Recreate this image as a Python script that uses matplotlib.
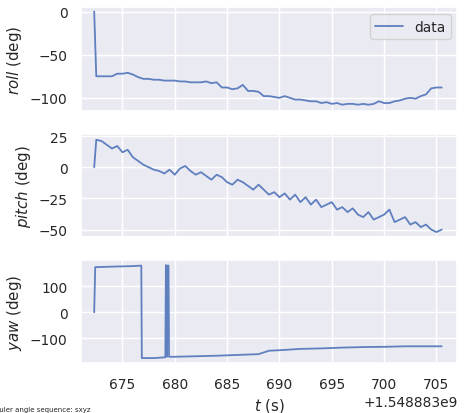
import numpy as np
import matplotlib
matplotlib.use("Agg")
import matplotlib.pyplot as plt
import seaborn as sns

sns.set_theme(style="darkgrid", font_scale=0.9)
plt.rcParams['font.family'] = ['DejaVu Sans']

OFFSET = 1.548883e9
t_rp = [672.3] + list(np.arange(672.5, 705.51, 0.5))
roll = [0,
    -75,-75,-75,-75, -72,-72,-71,-73, -76,-78,-78,-79, -79,-80,-80,-80,
    -81,-81,-82,-82, -82,-81,-83,-82, -88,-88,-90,-89, -85,-92,-92,-93,
    -98,-98,-99,-100, -98,-100,-102,-102, -103,-104,-104,-106, -105,-107,-106,-108,
    -107,-107,-108,-107, -108,-107,-104,-106, -106,-104,-103,-101, -100,-101,-98,-96,
    -89,-88,-88]
pitch = [0,
    22,21,18,15, 17,12,14,8, 5,2,0,-2, -3,-5,-2,-6, -1,1,-3,-6, -4,-7,-10,-6,
    -8,-12,-14,-10, -12,-15,-18,-14, -18,-22,-20,-24, -21,-26,-22,-28, -24,-30,-26,-32,
    -30,-28,-34,-32, -36,-33,-38,-40, -36,-42,-40,-38, -34,-44,-42,-40, -46,-44,-48,-46,
    -50,-52,-50]
t_yaw = [672.3,672.4,674,676.0,676.8,676.85,678,679.1,679.15,679.25,679.3,679.4,679.45,
         680,682,684,686,688,689,690,692,694,696,698,700,702,704,705.5]
yaw = [0,172,174,176,178,-175,-175,-172,180,-170,178,178,-170,-170,-168,-166,-163,-160,
       -147,-145,-140,-138,-135,-133,-132,-130,-130,-130]

fig, axes = plt.subplots(3, 1, figsize=(4.74, 4.14), dpi=100, sharex=True)
fig.subplots_adjust(left=0.17, right=0.965, top=0.98, bottom=0.12, hspace=0.22)
c = "#5f7fbf"
axes[0].plot(np.array(t_rp) + OFFSET, roll, color=c, lw=1.3, label="data")
axes[1].plot(np.array(t_rp) + OFFSET, pitch, color=c, lw=1.3)
axes[2].plot(np.array(t_yaw) + OFFSET, yaw, color=c, lw=1.3)
axes[0].legend(loc="upper right")
axes[0].set_ylim(-115, 5); axes[0].set_yticks([0, -50, -100])
axes[1].set_ylim(-56, 27); axes[1].set_yticks([25, 0, -25, -50])
axes[2].set_ylim(-195, 200); axes[2].set_yticks([-100, 0, 100])
axes[0].set_ylabel(r"$roll$ (deg)")
axes[1].set_ylabel(r"$pitch$ (deg)")
axes[2].set_ylabel(r"$yaw$ (deg)")
axes[2].set_xlim(671 + OFFSET, 707 + OFFSET)
axes[2].set_xticks([OFFSET + v for v in [675, 680, 685, 690, 695, 700, 705]])
axes[2].set_xlabel(r"$t$ (s)")
fig.text(-0.01, 0.005, "euler angle sequence: sxyz", fontsize=5)
fig.savefig("out.png", dpi=100)
